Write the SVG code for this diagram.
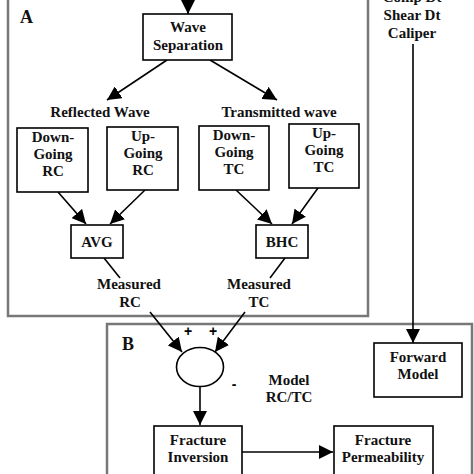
<svg xmlns="http://www.w3.org/2000/svg" width="474" height="474" viewBox="0 0 474 474">
<defs>
<marker id="ahb" viewBox="0 0 10 10" refX="10" refY="5" markerWidth="14" markerHeight="14" markerUnits="userSpaceOnUse" orient="auto"><path d="M0,0 L10,5 L0,10 z" fill="#000"/></marker>
</defs>
<style>
text{font-family:"Liberation Serif","Times New Roman",serif;font-weight:bold;font-size:15px;fill:#111;text-anchor:middle}
.panel{fill:none;stroke:#777;stroke-width:2.5}
.box{fill:#fff;stroke:#000;stroke-width:1.6}
.c{stroke:#000;stroke-width:1.6;fill:none}
.lbl{font-size:18px;text-anchor:start}
.sm{font-family:"Liberation Sans",Arial,sans-serif;font-size:14px;fill:#000}
</style>
<rect width="474" height="474" fill="#fff"/>
<rect class="panel" x="8" y="-10" width="360" height="326"/>
<rect class="panel" x="107" y="324" width="365" height="170"/>
<text class="lbl" x="20" y="23">A</text>
<text class="lbl" x="122" y="350">B</text>
<g id="connectors">
<line class="c" x1="188" y1="-5" x2="188" y2="14" marker-end="url(#ahb)"/>
<line class="c" x1="167" y1="60" x2="107" y2="100" marker-end="url(#ahb)"/>
<line class="c" x1="210" y1="60" x2="277" y2="100" marker-end="url(#ahb)"/>
<line class="c" x1="58" y1="192" x2="86" y2="224" marker-end="url(#ahb)"/>
<line class="c" x1="145" y1="190" x2="110" y2="224" marker-end="url(#ahb)"/>
<line class="c" x1="236" y1="190" x2="272" y2="224" marker-end="url(#ahb)"/>
<line class="c" x1="318" y1="188" x2="292" y2="224" marker-end="url(#ahb)"/>
<line class="c" x1="104" y1="258" x2="120" y2="278"/>
<line class="c" x1="285" y1="258" x2="270" y2="278"/>
<line class="c" x1="150" y1="312" x2="182" y2="352" marker-end="url(#ahb)"/>
<line class="c" x1="245" y1="312" x2="215" y2="352" marker-end="url(#ahb)"/>
<line class="c" x1="200" y1="387" x2="200" y2="425" marker-end="url(#ahb)"/>
<line class="c" x1="242" y1="452" x2="333" y2="452" marker-end="url(#ahb)"/>
<line class="c" x1="413" y1="44" x2="413" y2="343" marker-end="url(#ahb)"/>
</g>
<g id="inputs">
<text x="412" y="2">Comp Dt</text>
<text x="412" y="20">Shear Dt</text>
<text x="412" y="38">Caliper</text>
</g>
<g id="wave-separation">
<rect class="box" x="143" y="14" width="89" height="46"/>
<text x="188" y="32">Wave</text>
<text x="188" y="50">Separation</text>
</g>
<g id="reflected-wave"><text x="100" y="117">Reflected Wave</text></g>
<g id="transmitted-wave"><text x="279" y="117">Transmitted wave</text></g>
<g id="down-going-rc">
<rect class="box" x="17" y="128" width="71" height="64"/>
<text x="53" y="142">Down-</text><text x="53" y="159">Going</text><text x="53" y="176">RC</text>
</g>
<g id="up-going-rc">
<rect class="box" x="107" y="127" width="71" height="63"/>
<text x="143" y="141">Up-</text><text x="143" y="158">Going</text><text x="143" y="175">RC</text>
</g>
<g id="down-going-tc">
<rect class="box" x="199" y="126" width="70" height="64"/>
<text x="234" y="140">Down-</text><text x="234" y="157">Going</text><text x="234" y="174">TC</text>
</g>
<g id="up-going-tc">
<rect class="box" x="289" y="124" width="70" height="64"/>
<text x="324" y="138">Up-</text><text x="324" y="155">Going</text><text x="324" y="172">TC</text>
</g>
<g id="avg">
<rect class="box" x="71" y="225" width="52" height="33"/>
<text x="97" y="247">AVG</text>
</g>
<g id="bhc">
<rect class="box" x="256" y="225" width="52" height="33"/>
<text x="282" y="247">BHC</text>
</g>
<g id="measured-rc"><text x="129" y="289">Measured</text><text x="130" y="307">RC</text></g>
<g id="measured-tc"><text x="259" y="289">Measured</text><text x="259" y="307">TC</text></g>
<g id="sum">
<ellipse class="box" cx="200" cy="367" rx="23.5" ry="19.5"/>
<text class="sm" x="188" y="336">+</text>
<text class="sm" x="213" y="336">+</text>
<text class="sm" x="234" y="389">-</text>
</g>
<g id="model-rc-tc"><text x="289" y="385">Model</text><text x="289" y="402">RC/TC</text></g>
<g id="forward-model">
<rect class="box" x="374" y="343" width="88" height="54"/>
<text x="418" y="362">Forward</text><text x="418" y="379">Model</text>
</g>
<g id="fracture-inversion">
<rect class="box" x="154" y="426" width="88" height="60"/>
<text x="198" y="445">Fracture</text><text x="198" y="462">Inversion</text>
</g>
<g id="fracture-permeability">
<rect class="box" x="334" y="426" width="99" height="60"/>
<text x="383" y="445">Fracture</text><text x="383" y="462">Permeability</text>
</g>
</svg>
